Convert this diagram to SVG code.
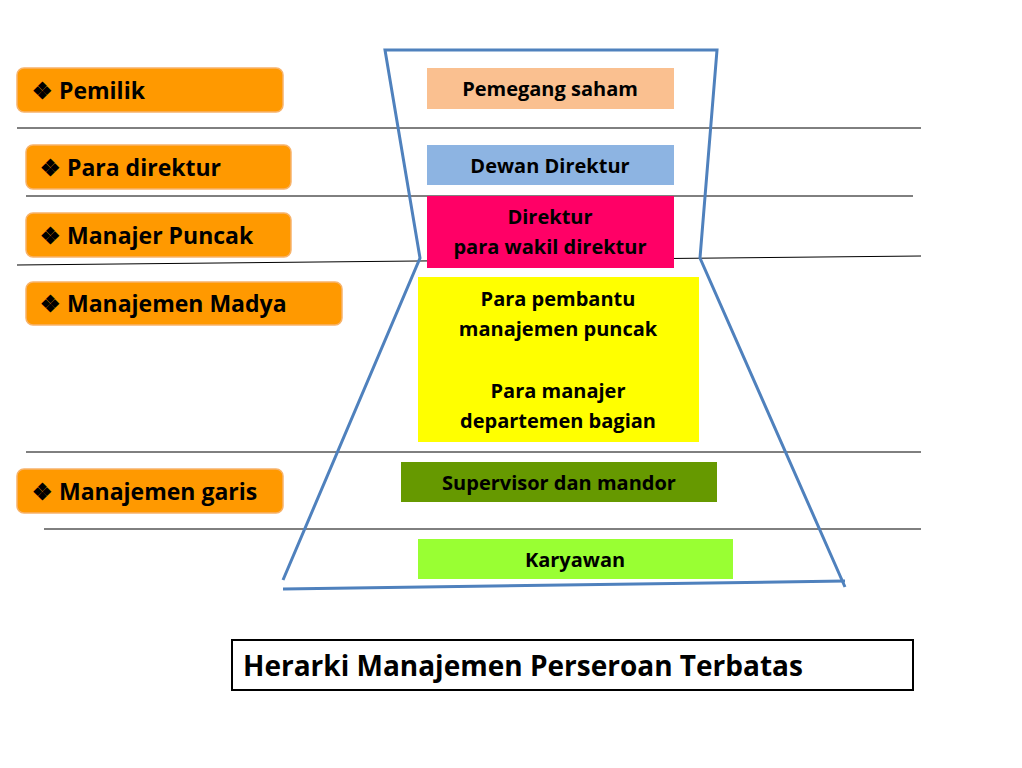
<svg xmlns="http://www.w3.org/2000/svg" width="1022" height="768" viewBox="0 0 1022 768">
<style>
.t{font-family:"Open Sans","Liberation Sans",sans-serif;font-weight:bold;fill:#000}
.lbl{fill:#FF9900;stroke:#F7B36B;stroke-width:1.5}
.ln{stroke:#000;stroke-width:1}
</style>
<rect width="1022" height="768" fill="#fff"/>
<g id="lines">
<line class="ln" x1="17" y1="128" x2="921" y2="128"/>
<line class="ln" x1="26" y1="196" x2="913" y2="196"/>
<line class="ln" x1="17" y1="265" x2="921" y2="256"/>
<line class="ln" x1="26" y1="452" x2="921" y2="452"/>
<line class="ln" x1="44" y1="529" x2="921" y2="529"/>
</g>
<g id="boxes">
<rect x="427" y="68" width="247" height="41" fill="#FAC090"/>
<text class="t" x="550" y="96" font-size="20" text-anchor="middle">Pemegang saham</text>
<rect x="427" y="145" width="247" height="40" fill="#8DB4E2"/>
<text class="t" x="550" y="173" font-size="20" text-anchor="middle">Dewan Direktur</text>
<rect x="427" y="196" width="247" height="72" fill="#FF0066"/>
<text class="t" x="550" y="224" font-size="20" text-anchor="middle">Direktur</text>
<text class="t" x="550" y="254" font-size="20" text-anchor="middle">para wakil direktur</text>
<rect x="418" y="277" width="281" height="165" fill="#FFFF00"/>
<text class="t" x="558" y="306" font-size="20" text-anchor="middle">Para pembantu</text>
<text class="t" x="558" y="336" font-size="20" text-anchor="middle">manajemen puncak</text>
<text class="t" x="558" y="398" font-size="20" text-anchor="middle">Para manajer</text>
<text class="t" x="558" y="428" font-size="20" text-anchor="middle">departemen bagian</text>
<rect x="401" y="462" width="316" height="40" fill="#669900"/>
<text class="t" x="559" y="490" font-size="20" text-anchor="middle">Supervisor dan mandor</text>
<rect x="418" y="539" width="315" height="40" fill="#99FF33"/>
<text class="t" x="575" y="567" font-size="20" text-anchor="middle">Karyawan</text>
</g>
<g id="funnel" fill="none" stroke="#4F81BD" stroke-width="3">
<polyline points="283,580 420,258 385,50 717,50 700,258 845,587"/>
<line x1="283" y1="589" x2="845" y2="581"/>
</g>
<g id="labels">
<rect class="lbl" x="17" y="68" width="266" height="44" rx="7"/>
<text class="t" x="32" y="99" font-size="23">❖ Pemilik</text>
<rect class="lbl" x="26" y="145" width="265" height="44" rx="7"/>
<text class="t" x="40" y="176" font-size="23">❖ Para direktur</text>
<rect class="lbl" x="26" y="213" width="265" height="44" rx="7"/>
<text class="t" x="40" y="244" font-size="23">❖ Manajer Puncak</text>
<rect class="lbl" x="26" y="282" width="316" height="43" rx="7"/>
<text class="t" x="40" y="312" font-size="23">❖ Manajemen Madya</text>
<rect class="lbl" x="17" y="469" width="266" height="44" rx="7"/>
<text class="t" x="32" y="500" font-size="23">❖ Manajemen garis</text>
</g>
<g id="title">
<rect x="232" y="640" width="681" height="50" fill="#fff" stroke="#000" stroke-width="2"/>
<text class="t" x="243" y="676" font-size="28">Herarki Manajemen Perseroan Terbatas</text>
</g>
</svg>
